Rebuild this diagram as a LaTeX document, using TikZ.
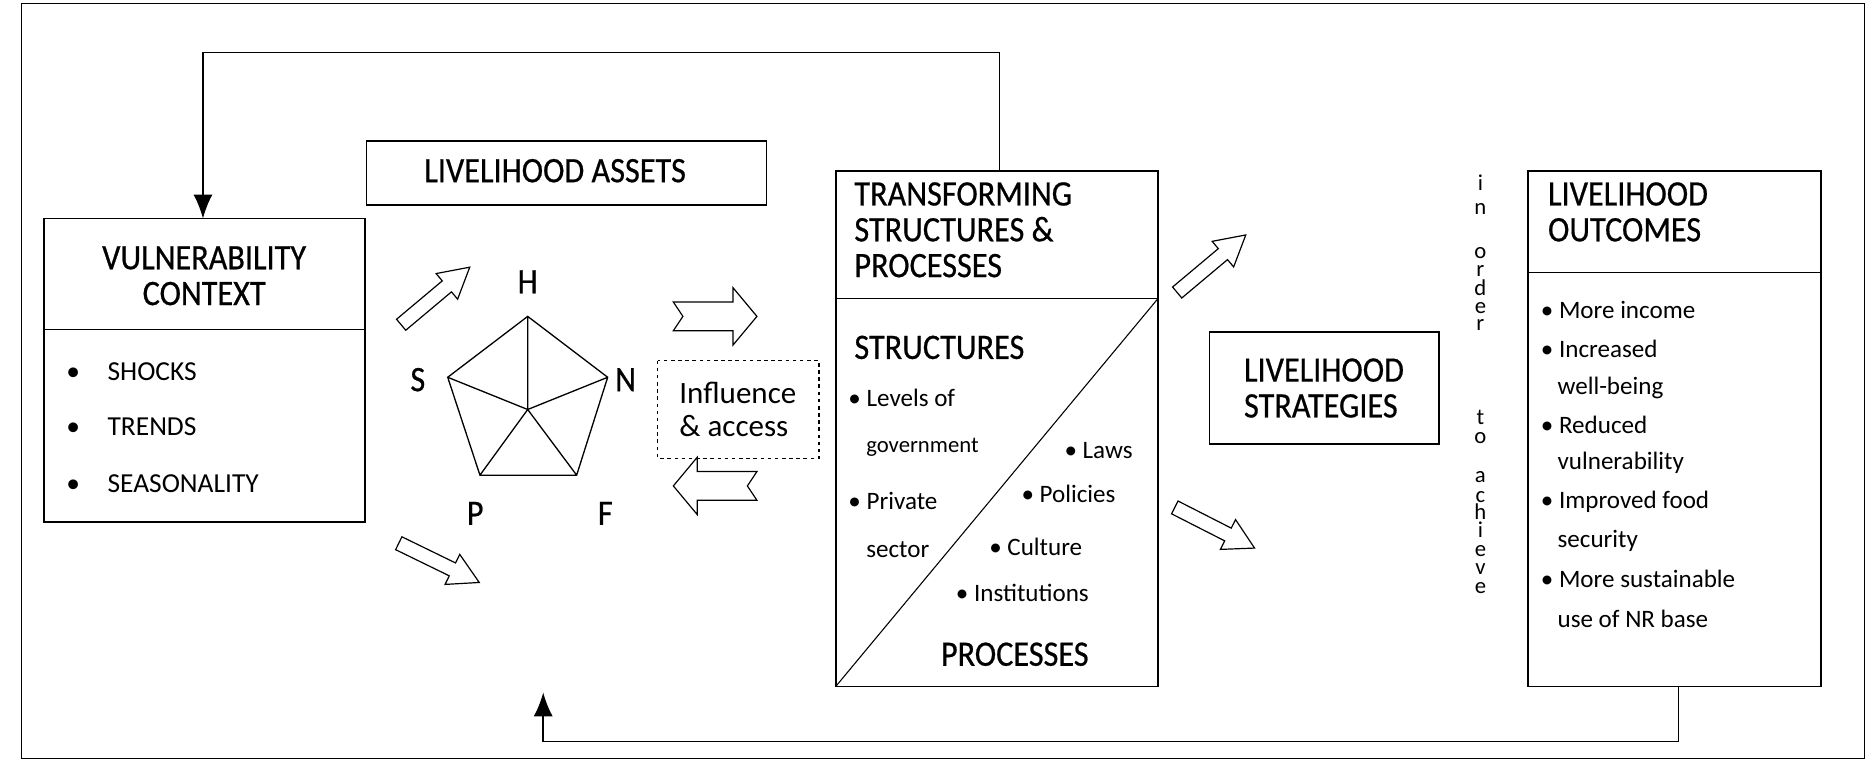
\documentclass[tikz,border=0pt]{standalone}
\usepackage{fontspec}
\setmainfont{Carlito}
\newfontfamily\hdfont[FakeStretch=0.9,FakeBold=0.6]{Carlito}
\usetikzlibrary{arrows.meta}
\begin{document}
\begin{tikzpicture}[x=1pt,y=-1pt,line width=1.3pt,
 box/.style={draw,line width=1.5pt},
 hd/.style={font=\hdfont\fontsize{30}{30}\selectfont,align=left,inner sep=0},
 tx/.style={font=\fontsize{21}{22}\selectfont,anchor=west,inner sep=0},
 lt/.style={font=\fontsize{19}{19}\selectfont,inner sep=0,text height=9pt,text depth=0pt},
 barrow/.pic={\draw[line width=1pt,fill=white] (0,-6)--(50,-6)--(50,-14)--(75,0)--(50,14)--(50,6)--(0,6)--cycle;},
 narrow/.pic={\draw[line width=1pt,fill=white] (0,-12)--(50,-12)--(50,-24)--(70,0)--(50,24)--(50,12)--(0,12)--(8,0)--cycle;}]
\useasboundingbox (0,0) rectangle (1568,638);
\draw[line width=1pt] (18,3) rectangle (1562,635);
% vulnerability
\draw[box] (37,183) rectangle (306,437);
\draw[line width=0.8pt] (37,276)--(306,276);
\node[hd,align=center] (vt) at (171,231) {VULNERABILITY\\CONTEXT};
\node[tx,font=\fontsize{23}{24}\selectfont] (v1) at (55,311) {\textbullet\quad SHOCKS};
\node[tx,font=\fontsize{23}{24}\selectfont] (v2) at (55,357) {\textbullet\quad TRENDS};
\node[tx,font=\fontsize{23}{24}\selectfont] (v3) at (55,405) {\textbullet\quad SEASONALITY};
\coordinate (vtop) at (170,183);
% assets
\draw[box] (307,118) rectangle (642,172);
\node[hd] (la) at (465,143) {LIVELIHOOD ASSETS};
% pentagon
\coordinate (H) at (442,265); \coordinate (S) at (375,316); \coordinate (N) at (509,316);
\coordinate (P) at (402,398); \coordinate (F) at (483,398); \coordinate (C) at (442,343);
\draw[line width=1.1pt] (H)--(N)--(F)--(P)--(S)--cycle (C)--(H) (C)--(N) (C)--(F) (C)--(P) (C)--(S);
\node[hd] (lh) at (442,236) {H};
\node[hd] (ls) at (350,318) {S};
\node[hd] (ln) at (524,318) {N};
\node[hd] (lp) at (398,430) {P};
\node[hd] (lf) at (507,430) {F};
% influence
\draw[line width=1pt,dashed] (551,302) rectangle (686,384);
\node[font=\fontsize{26}{28}\selectfont,align=left,inner sep=0] (inf) at (618,343) {Influence\\\& access};
% transforming
\draw[box] (700,143) rectangle (970,575);
\draw[line width=0.8pt] (700,250)--(970,250);
\draw[line width=0.9pt] (700,575)--(970,250);
\node[hd,anchor=north west] (tt) at (715,152) {TRANSFORMING\\STRUCTURES \&\\PROCESSES};
\node[hd,anchor=west] (st) at (715,291) {STRUCTURES};
\node[hd] (pr) at (850,548) {PROCESSES};
\node[tx] (b1) at (710,333) {\textbullet\ Levels of};
\node[tx] (b2) at (725,375) {\fontsize{19}{20}\selectfont government};
\node[tx] (b3) at (710,420) {\textbullet\ Private};
\node[tx] (b4) at (725,460) {sector};
\node[tx] (b5) at (891,377) {\textbullet\ Laws};
\node[tx] (b6) at (855,414) {\textbullet\ Policies};
\node[tx] (b7) at (828,458) {\textbullet\ Culture};
\node[tx] (b8) at (800,497) {\textbullet\ Institutions};
\coordinate (ttop) at (837,143);
% strategies
\draw[box] (1013,278) rectangle (1205,372);
\node[hd] (ls2) at (1109,325) {LIVELIHOOD\\STRATEGIES};
% vertical text
\foreach \c/\y [count=\i] in {i/155,n/175,o/212,r/227,d/243,e/258,r/272,t/351,o/367,a/400,c/416,h/431,i/446,e/462,v/477,e/493}
  \node[lt] (vl\i) at (1240,\y) {\c};
% outcomes
\draw[box] (1280,143) rectangle (1525,575);
\draw[line width=0.8pt] (1280,228)--(1525,228);
\node[hd,anchor=north west] (ot) at (1296,152) {LIVELIHOOD\\OUTCOMES};
\node[tx] (o1) at (1290,260) {\textbullet\ More income};
\node[tx] (o2) at (1290,292) {\textbullet\ Increased};
\node[tx] (o3) at (1304,325) {well-being};
\node[tx] (o4) at (1290,356) {\textbullet\ Reduced};
\node[tx] (o5) at (1304,388) {vulnerability};
\node[tx] (o6) at (1290,420) {\textbullet\ Improved food};
\node[tx] (o7) at (1304,453) {security};
\node[tx] (o8) at (1290,485) {\textbullet\ More sustainable};
\node[tx] (o9) at (1304,518) {use of NR base};
\coordinate (obot) at (1406,575);
\coordinate (abot) at (455,580);
% feedback lines
\draw[-{Latex[length=20pt,width=16pt]}] (ttop) |- (500,44) -| (vtop);
\draw[-{Latex[length=20pt,width=16pt]}] (obot) |- (800,621) -| (abot);
% block arrows
\pic[rotate=40] at (336,272) {barrow};
\pic[rotate=-26] at (334,455) {barrow};
\pic at (564,265) {narrow};
\pic[rotate=180] at (634,407) {narrow};
\pic[rotate=40] at (986,245) {barrow};
\pic[rotate=-27] at (984,425) {barrow};
\end{tikzpicture}
\end{document}
